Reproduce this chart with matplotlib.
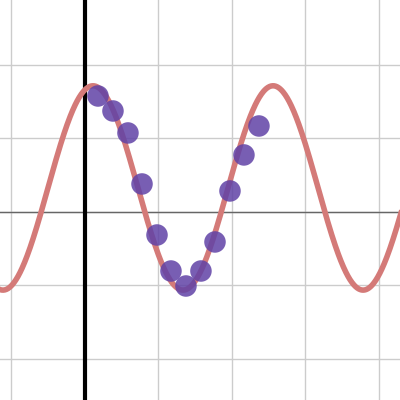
import numpy as np
import matplotlib
matplotlib.use("Agg")
import matplotlib.pyplot as plt

# data points
px = [0.177, 0.381, 0.585, 0.776, 0.980, 1.170, 1.374, 1.578, 1.769, 1.973, 2.163, 2.367]
py = [1.578, 1.374, 1.075, 0.381, -0.313, -0.803, -1.007, -0.803, -0.408, 0.286, 0.776, 1.170]
# fitted curve parameters
offset = 0.327
amp = 1.39
period = 2.45
phase = 0.109

fig = plt.figure(figsize=(4, 4), dpi=100)
ax = fig.add_axes([0, 0, 1, 1])
ax.set_xlim(-1.156, 4.286)
ax.set_ylim(-2.558, 2.884)
for g in range(-1, 5):
    ax.axvline(g, color="#cccccc", lw=1, zorder=0)
for g in range(-2, 3):
    ax.axhline(g, color="#cccccc", lw=1, zorder=0)
ax.axhline(0, color="#666666", lw=1, zorder=1)
ax.axvline(0, color="black", lw=3, zorder=1)

xs = np.linspace(-1.2, 4.3, 800)
ax.plot(xs, offset + amp * np.cos(2 * np.pi * (xs - phase) / period),
        color="#d47a78", lw=4, zorder=2)
ax.scatter(px, py, s=240, color="#6042a6", alpha=0.85, edgecolors="none", zorder=3)
ax.set_xticks([]); ax.set_yticks([])
for s in ax.spines.values():
    s.set_visible(False)
fig.savefig("out.png", dpi=100)
